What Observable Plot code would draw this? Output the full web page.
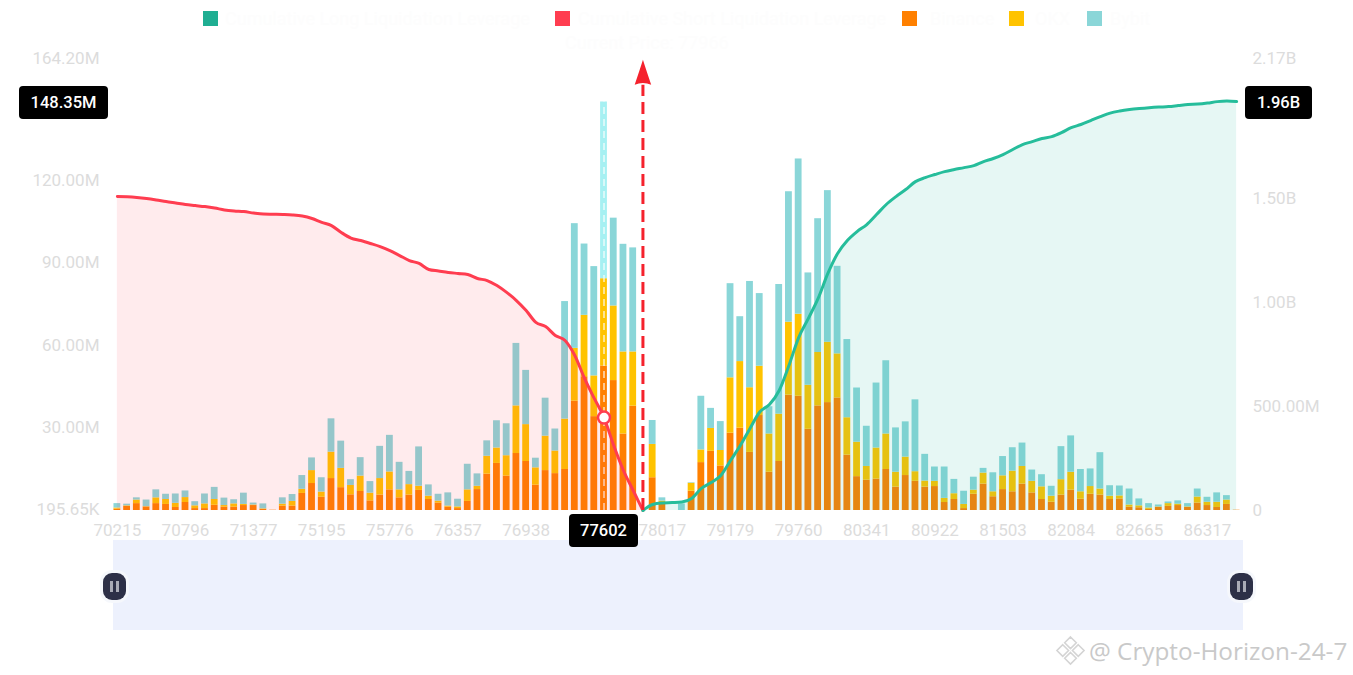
<!DOCTYPE html>
<html><head><meta charset="utf-8">
<script src="https://cdn.jsdelivr.net/npm/d3@7"></script>
<script src="https://cdn.jsdelivr.net/npm/@observablehq/plot@0.6"></script>
<style>
html,body{margin:0;padding:0;background:#fff;overflow:hidden}
#wrap{position:relative;width:1353px;height:675px;font-family:Roboto,sans-serif}
.badge{position:absolute;background:#000;color:#fff;border-radius:4px;height:33px;line-height:33px;text-align:center;font-size:16.5px;font-weight:500;z-index:3}
.lg{position:absolute;top:11px;height:15px;width:15px;z-index:3}
.lgt{position:absolute;top:8px;font-size:18px;color:#fdfdfd;z-index:3;white-space:nowrap}
#slider{position:absolute;left:113px;top:540px;width:1130px;height:90px;background:#edf1fd}
.handle{position:absolute;top:573px;width:23px;height:27px;border-radius:9px;background:#2d3047;box-shadow:0 0 0 3px rgba(245,247,252,.9);z-index:4}
.handle i{position:absolute;top:8px;width:2.5px;height:11px;background:#a9abb6}
#wm{position:absolute;left:1055px;top:634px;height:32px;display:flex;align-items:center;color:#c9c9c9;font-family:"Open Sans",sans-serif;font-size:24.3px;white-space:nowrap}
</style></head><body><div id="wrap"></div>
<script>
const seriesNames = ["Binance","OKX","Bybit"];
const seriesColors = ["#ff8000","#ffc300","#8ad6d8"];
const selectedBybitColor = "#a6f0f2";
const selectedIndex = 50, priceIndex = 54;
const binance = [0.5,1.5,2.5,1.3,2.5,2.2,1.1,2.9,0.7,0.7,1.9,1.2,1.2,1.8,1.8,0.4,0.1,1.6,1.6,6.2,9.8,4.8,11.6,8.3,5.7,6.9,3.5,5.6,7.5,4.6,
5.6,7.3,4,2.7,1.2,0.7,3.3,7.6,13.2,17.1,12.5,20.7,17.8,9.2,14.5,13.4,14.9,39.7,48.6,34.1,52.5,47.2,27.8,37.9,0,11.9,2.4,0,0,7,
17.4,21.5,16.2,28.1,29.9,21.1,34.5,13.9,17.8,41.9,41.5,29.5,38,39.2,40.9,20.1,12.3,11,11.4,14.9,8.5,12.7,10.6,8.5,8.7,2.9,4,0.7,5.9,9.6,
5,7.6,6.8,9.6,6.4,4,3,5.6,7.4,4.1,5.9,5.6,4,4.2,1.2,1,0.4,1.2,1.5,1.8,1.1,2.7,1.8,1.1,2.2,0.1];
const okx = [0.4,0.2,1.3,0.1,2.1,1.8,1.5,1.8,1,1.7,2.1,0.6,1.2,0.4,0.2,0.2,0,0.7,1.7,1.5,4.7,1.9,9.6,7,3.4,5.6,2.8,6,6.5,2.9,
3.8,1.5,1.2,0.7,0.4,0.6,4.2,1.2,6.5,5.6,7.4,17.3,13.4,6.3,12.5,8.2,18.3,19.2,22.3,14.8,31.7,27.1,29.8,19.7,0,12.1,1,0,0,2.9,
4.6,8.3,5.6,20.1,24.2,23.5,17.9,13.9,17.2,26.5,29.8,16,19.4,21.9,16,13.6,12.5,5,11.3,12.9,5.4,6.7,3.5,2.2,1.9,1.5,2.1,1.5,1.5,4,
1.8,5,7.5,6.4,4.2,4.6,2.2,5.6,6.5,2.7,2.8,2.2,1.2,1.1,0.8,0.7,0.5,0.1,1,0.5,0.2,2.2,1.2,1.9,1.6,0];
const bybit = [1.6,0.6,0.8,2.4,2.9,1.9,3.4,2.4,1.5,3.6,4.4,2.7,1.5,4.1,0.7,1.8,0,2.3,2.5,5,4.6,5.2,12.1,9.9,2.1,6.7,4.2,11.7,13.3,10,
4.8,14.3,4.1,2.5,4.8,2.8,9.3,4.5,5.6,9.9,11.6,22.7,19.7,3.5,13.8,8,42.7,45.3,25.9,39.7,64.2,31.9,39.1,37.8,0,8.7,1.2,0,2.4,0.2,
19.5,7.3,10.5,34.2,16.3,38.6,26.4,9.9,47.1,47.4,56.4,40.8,48.6,55.1,31.8,28.4,19.7,14.6,23.6,26.6,16.1,12.8,26.1,9.7,5.2,11.4,5.2,4.8,4.7,1.7,
6.9,7,8.5,8.5,4.1,4.4,3.6,12,13.2,8.1,6.4,13.2,3.8,3.6,5.8,2.5,1.6,0.7,0.6,1.2,1.2,2.9,1.8,3.4,1.6,0];
const cumLongB = [1.507,1.506,1.503,1.498,1.491,1.483,1.476,1.469,1.464,1.459,1.452,1.443,1.438,1.435,1.428,1.423,1.422,1.421,1.419,1.414,1.402,1.383,1.368,1.335,1.308,1.296,1.282,1.267,1.248,1.224,1.2,1.186,1.157,1.15,1.143,1.138,1.133,1.114,1.104,1.08,1.047,1.008,0.96,0.903,0.883,0.84,0.816,0.744,0.634,0.538,0.446,0.312,0.192,0.096,0];
const cumShortB = [0,0.029,0.036,0.038,0.041,0.058,0.106,0.134,0.168,0.24,0.312,0.394,0.473,0.509,0.576,0.696,0.83,0.922,1.018,1.138,1.234,1.296,1.339,1.373,1.421,1.469,1.507,1.541,1.579,1.598,1.613,1.627,1.637,1.646,1.656,1.675,1.69,1.709,1.733,1.757,1.771,1.786,1.795,1.814,1.838,1.853,1.872,1.891,1.908,1.918,1.925,1.93,1.934,1.937,1.939,1.944,1.949,1.951,1.956,1.963,1.966,1.963];
const xTickIndex = [0,7,14,21,28,35,42,56,63,70,77,84,91,98,105,112];
const xTickLabels = ["70215","70796","71377","75195","75776","76357","76938","78017","79179","79760","80341","80922","81503","82084","82665","86317"];
const leftTicks = [0.19565,30,60,90,120,164.2];
const leftLabels = ["195.65K","30.00M","60.00M","90.00M","120.00M","164.20M"];
const rightTicksB = [0,0.5,1,1.5,2.17];
const rightLabels = ["0","500.00M","1.00B","1.50B","2.17B"];
const maxLeft = 164.2, maxRight = 2.17;
const labelColor = "#dcdcdc", redLine = "#ff3d50", greenLine = "#26bd9b", priceColor = "#f5222d";
const legendLabels = ["Cumulative Long Liquidation Leverage","Cumulative Short Liquidation Leverage",...seriesNames];
const toLeft = b => b*maxLeft/maxRight;

const idx = d3.range(binance.length);
const rows = [];
idx.forEach(i=>{[binance,okx,bybit].forEach((a,s)=>rows.push({i,s:seriesNames[s],v:a[i],c:(s===2&&i===selectedIndex)?selectedBybitColor:seriesColors[s]}))});
const longRows = cumLongB.map((b,i)=>({i,v:toLeft(b)}));
const shortRows = cumShortB.map((b,k)=>({i:priceIndex+k,v:toLeft(b)}));
const total = binance[selectedIndex]+okx[selectedIndex]+bybit[selectedIndex];
const arrowHead = {draw(c,size){const r=Math.sqrt(size/Math.PI);c.moveTo(0,-r);c.quadraticCurveTo(r*0.22,-r*0.3,r*0.66,r);c.quadraticCurveTo(0,r*0.72,-r*0.66,r);c.quadraticCurveTo(-r*0.22,-r*0.3,0,-r);c.closePath();}};

const chart = Plot.plot({
  width:1353,height:540,marginTop:58,marginBottom:30,marginLeft:112,marginRight:112,
  style:{fontFamily:"Roboto,sans-serif",fontSize:"17px",background:"transparent",overflow:"visible"},
  x:{type:"band",domain:idx,paddingInner:0.3,paddingOuter:0.15,axis:null},
  y:{domain:[0,maxLeft],axis:null},
  marks:[
    Plot.axisX({ticks:xTickIndex,tickFormat:d=>xTickLabels[xTickIndex.indexOf(d)],tickSize:0,tickPadding:13,fill:labelColor,label:null}),
    Plot.axisY({anchor:"left",ticks:leftTicks,tickFormat:d=>leftLabels[leftTicks.indexOf(d)],tickSize:0,tickPadding:13,fill:labelColor,label:null}),
    Plot.axisY({anchor:"right",ticks:rightTicksB.map(toLeft),tickFormat:(d,i)=>rightLabels[i],tickSize:0,tickPadding:11,fill:labelColor,label:null}),
    Plot.barY(rows,{x:"i",y:"v",z:"s",fill:"c"}),
    Plot.ruleX([selectedIndex],{y1:0,y2:total,stroke:"#fff",strokeOpacity:0.75,strokeWidth:1.5,strokeDasharray:"7,5"}),
    Plot.areaY(longRows,{x:"i",y1:0,y2:"v",fill:redLine,fillOpacity:0.1,curve:"monotone-x"}),
    Plot.areaY(shortRows,{x:"i",y1:0,y2:"v",fill:greenLine,fillOpacity:0.115,curve:"monotone-x"}),
    Plot.lineY(longRows,{x:"i",y:"v",stroke:redLine,strokeWidth:3,curve:"monotone-x"}),
    Plot.lineY(shortRows,{x:"i",y:"v",stroke:greenLine,strokeWidth:3,curve:"monotone-x"}),
    Plot.ruleX([priceIndex],{y1:0,y2:154.5,stroke:priceColor,strokeWidth:3,strokeDasharray:"12,6"}),
    Plot.dot([priceIndex],{x:d=>d,y:()=>159.2,r:12.5,symbol:arrowHead,fill:priceColor,stroke:"none"}),
    Plot.dot([selectedIndex],{x:d=>d,y:()=>toLeft(cumLongB[selectedIndex]),r:6,fill:"#fff",stroke:redLine,strokeWidth:2.5})
  ]
});
const wrap = document.getElementById("wrap");
chart.style.position="absolute";chart.style.left="0";chart.style.top="0";
wrap.appendChild(chart);
const xs=chart.scale("x"), ys=chart.scale("y");
const cx=i=>xs.apply(i)+xs.bandwidth/2;
function add(html){const t=document.createElement("div");t.innerHTML=html;const n=t.firstElementChild;wrap.appendChild(n);return n;}
function badge(text,left,top,w){add(`<div class="badge" style="left:${left}px;top:${top}px;width:${w}px">${text}</div>`)}
const selTop=ys.apply(total);
badge("148.35M",19,selTop-15.5,89);
badge("1.96B",1245,selTop-15.5,67);
badge("77602",cx(selectedIndex)-34.5,514,69);
add('<div id="slider"></div>');
[103,1230].forEach(l=>add(`<div class="handle" style="left:${l}px"><i style="left:7px"></i><i style="left:13px"></i></div>`));
const swatchX=[203,555,902,1009,1087], textX=[225,578,930,1035,1110];
const swatchC=["#1fae92","#ff3d50",...seriesColors];
legendLabels.forEach((t,i)=>{add(`<div class="lg" style="left:${swatchX[i]}px;background:${swatchC[i]}"></div>`);add(`<div class="lgt" style="left:${textX[i]}px">${t}</div>`);});
add('<div class="lgt" style="left:565px;top:32px">Current Price: 77966</div>');
add(`<div id="wm"><svg width="31" height="31" viewBox="-16 -16 32 32" style="margin-right:3px" fill="none" stroke="#d4d4d4" stroke-width="1.6"><path d="M0-14 6-8 0-2-6-8Z M-8-6-2 0-8 6-14 0Z M8-6 14 0 8 6 2 0Z M0 2 6 8 0 14-6 8Z"/></svg><span>@ Crypto-Horizon-24-7</span></div>`);
</script></body></html>
